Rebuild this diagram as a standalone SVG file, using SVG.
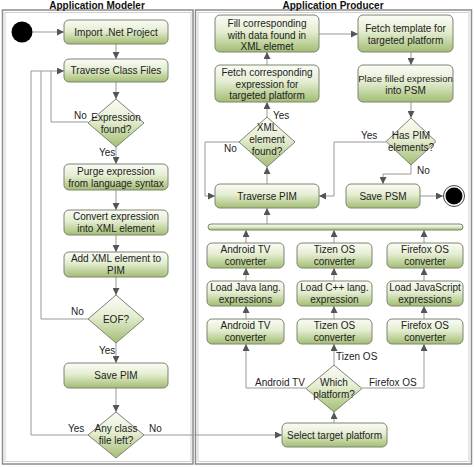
<svg xmlns="http://www.w3.org/2000/svg" width="474" height="467" viewBox="0 0 474 467">
<defs>
<linearGradient id="g" x1="0" y1="0" x2="0" y2="1">
<stop offset="0" stop-color="#fbfcf6"/>
<stop offset="0.45" stop-color="#e4edd1"/>
<stop offset="1" stop-color="#a3bd72"/>
</linearGradient>
<marker id="a" markerWidth="7" markerHeight="7" refX="7" refY="3.5" orient="auto" markerUnits="userSpaceOnUse">
<path d="M0,0 L7,3.5 L0,7 z" fill="#555"/>
</marker>
<style>
.n{fill:url(#g);stroke:#7d8472;stroke-width:1}
.t{font-family:"Liberation Sans",Arial,sans-serif;font-size:10px;fill:#222;text-anchor:middle}
.l{font-family:"Liberation Sans",Arial,sans-serif;font-size:10px;fill:#222}
.h{font-family:"Liberation Sans",Arial,sans-serif;font-size:10px;font-weight:bold;fill:#111;text-anchor:middle}
.c{fill:none;stroke:#999;stroke-width:1}
.ca{fill:none;stroke:#999;stroke-width:1;marker-end:url(#a)}
.f{fill:none;stroke:#8c8c8c;stroke-width:1.5}
.fi{fill:none;stroke:#d0d0d0;stroke-width:1}
</style>
</defs>
<rect width="474" height="467" fill="#fff"/>
<g id="frames">
<rect class="f" x="2.5" y="10" width="190.5" height="454"/>
<rect class="fi" x="5" y="12.5" width="186" height="449"/>
<rect class="f" x="195.5" y="10" width="276" height="454"/>
<rect class="fi" x="198" y="12.5" width="271" height="449"/>
<text class="h" x="97" y="9">Application Modeler</text>
<text class="h" x="333" y="9">Application Producer</text>
</g>
<g id="connectors">
<line class="ca" x1="32.5" y1="32" x2="64" y2="32"/>
<line class="ca" x1="116" y1="44" x2="116" y2="59"/>
<line class="ca" x1="116" y1="82" x2="116" y2="99"/>
<polyline class="ca" points="88,122 51,122 51,71 64,71"/>
<line class="ca" x1="116" y1="147" x2="116" y2="164"/>
<line class="ca" x1="116" y1="190" x2="116" y2="210"/>
<line class="ca" x1="116" y1="235" x2="116" y2="252"/>
<line class="ca" x1="116" y1="277" x2="116" y2="295"/>
<polyline class="c" points="88,319 41,319 41,71"/>
<line class="ca" x1="116" y1="343" x2="116" y2="363"/>
<line class="ca" x1="116" y1="388" x2="116" y2="412"/>
<polyline class="c" points="88,435 31,435 31,71 51,71"/>
<line class="ca" x1="144" y1="435" x2="282" y2="435"/>
<line class="ca" x1="319" y1="34" x2="358" y2="34"/>
<line class="ca" x1="267" y1="65" x2="267" y2="52"/>
<line class="ca" x1="411" y1="52" x2="411" y2="65"/>
<line class="ca" x1="267" y1="117" x2="267" y2="102"/>
<polyline class="ca" points="239,142 205,142 205,196 215,196"/>
<line class="ca" x1="267" y1="184" x2="267" y2="167"/>
<line class="ca" x1="411" y1="102" x2="411" y2="118"/>
<polyline class="ca" points="386,142 334,142 334,196 319,196"/>
<polyline class="ca" points="411,165 411,174 383,174 383,184"/>
<line class="ca" x1="420" y1="196" x2="443" y2="196"/>
<line class="ca" x1="267" y1="224" x2="267" y2="208"/>
<line class="ca" x1="246" y1="243" x2="246" y2="230"/>
<line class="ca" x1="334" y1="243" x2="334" y2="230"/>
<line class="ca" x1="424" y1="243" x2="424" y2="230"/>
<line class="ca" x1="246" y1="281" x2="246" y2="268"/>
<line class="ca" x1="334" y1="281" x2="334" y2="268"/>
<line class="ca" x1="424" y1="281" x2="424" y2="268"/>
<line class="ca" x1="246" y1="319" x2="246" y2="306"/>
<line class="ca" x1="334" y1="319" x2="334" y2="306"/>
<line class="ca" x1="424" y1="319" x2="424" y2="306"/>
<polyline class="ca" points="306,388 246,388 246,344"/>
<line class="ca" x1="334" y1="365" x2="334" y2="344"/>
<polyline class="ca" points="362,388 424,388 424,344"/>
<line class="ca" x1="334" y1="423" x2="334" y2="412"/>
</g>
<g id="labels">
<text class="l" x="74" y="119">No</text>
<text class="l" x="99" y="156">Yes</text>
<text class="l" x="71" y="315">No</text>
<text class="l" x="99" y="354">Yes</text>
<text class="l" x="68" y="432">Yes</text>
<text class="l" x="149" y="432">No</text>
<text class="l" x="273" y="119">Yes</text>
<text class="l" x="224" y="152">No</text>
<text class="l" x="361" y="139">Yes</text>
<text class="l" x="417" y="174">No</text>
<text class="l" x="336" y="360">Tizen OS</text>
<text class="l" x="255" y="386">Android TV</text>
<text class="l" x="369" y="386">Firefox OS</text>
</g>
<g id="start"><circle cx="22" cy="32" r="10.5" fill="#000"/></g>
<g id="import"><rect class="n" x="64" y="20" width="104" height="24" rx="5"/><text class="t" x="116" y="35.5">Import .Net Project</text></g>
<g id="traverse-class"><rect class="n" x="64" y="59" width="104" height="23" rx="5"/><text class="t" x="116" y="74">Traverse Class Files</text></g>
<g id="expr-found"><path class="n" d="M116,99 L144,123 L116,147 L88,123 Z"/><text class="t" x="116" y="121">Expression</text><text class="t" x="116" y="133">found?</text></g>
<g id="purge"><rect class="n" x="64" y="164" width="104" height="26" rx="5"/><text class="t" x="116" y="174.5">Purge expression</text><text class="t" x="116" y="186.5">from language syntax</text></g>
<g id="convert"><rect class="n" x="64" y="210" width="104" height="25" rx="5"/><text class="t" x="116" y="220">Convert expression</text><text class="t" x="116" y="232">into XML element</text></g>
<g id="add-xml"><rect class="n" x="64" y="252" width="104" height="25" rx="5"/><text class="t" x="116" y="262">Add XML element to</text><text class="t" x="116" y="274">PIM</text></g>
<g id="eof"><path class="n" d="M116,295 L144,319 L116,343 L88,319 Z"/><text class="t" x="116" y="322.5">EOF?</text></g>
<g id="save-pim"><rect class="n" x="64" y="363" width="104" height="25" rx="5"/><text class="t" x="116" y="379">Save PIM</text></g>
<g id="any-class"><path class="n" d="M116,412 L144,435 L116,458 L88,435 Z"/><text class="t" x="116" y="432">Any class</text><text class="t" x="116" y="444">file left?</text></g>
<g id="fill"><rect class="n" x="215" y="15" width="104" height="37" rx="5"/><text class="t" x="267" y="26.5">Fill corresponding</text><text class="t" x="267" y="38.5">with data found in</text><text class="t" x="267" y="50">XML elemet</text></g>
<g id="fetch-template"><rect class="n" x="358" y="15" width="95" height="37" rx="5"/><text class="t" x="405.5" y="32">Fetch template for</text><text class="t" x="405.5" y="44">targeted platform</text></g>
<g id="fetch-corr"><rect class="n" x="215" y="65" width="104" height="37" rx="5"/><text class="t" x="267" y="75.5">Fetch corresponding</text><text class="t" x="267" y="87.5">expression for</text><text class="t" x="267" y="99">targeted platform</text></g>
<g id="place"><rect class="n" x="358" y="65" width="95" height="37" rx="5"/><text class="t" x="405.5" y="81.5" style="font-size:9.5px">Place filled expression</text><text class="t" x="405.5" y="93.5">into PSM</text></g>
<g id="xml-found"><path class="n" d="M267,117 L295,142 L267,167 L239,142 Z"/><text class="t" x="267" y="131">XML</text><text class="t" x="267" y="143">element</text><text class="t" x="267" y="155">found?</text></g>
<g id="has-pim"><path class="n" d="M411,118 L436,141.5 L411,165 L386,141.5 Z"/><text class="t" x="411" y="139">Has PIM</text><text class="t" x="411" y="151">elements?</text></g>
<g id="traverse-pim"><rect class="n" x="215" y="184" width="104" height="24" rx="5"/><text class="t" x="267" y="199.5">Traverse PIM</text></g>
<g id="save-psm"><rect class="n" x="346" y="184" width="74" height="24" rx="5"/><text class="t" x="383" y="199.5">Save PSM</text></g>
<g id="end"><circle cx="454" cy="196" r="10.5" fill="#fff" stroke="#444" stroke-width="1"/><circle cx="454" cy="196" r="8.5" fill="#000"/></g>
<g id="join-bar"><rect class="n" x="208" y="224" width="255" height="6" rx="3"/></g>
<g id="android-conv-top"><rect class="n" x="207" y="243" width="77" height="25" rx="5"/><text class="t" x="245.5" y="253">Android TV</text><text class="t" x="245.5" y="265">converter</text></g>
<g id="tizen-conv-top"><rect class="n" x="297" y="243" width="75" height="25" rx="5"/><text class="t" x="334.5" y="253">Tizen OS</text><text class="t" x="334.5" y="265">converter</text></g>
<g id="firefox-conv-top"><rect class="n" x="387" y="243" width="76" height="25" rx="5"/><text class="t" x="425" y="253">Firefox OS</text><text class="t" x="425" y="265">converter</text></g>
<g id="load-java"><rect class="n" x="207" y="281" width="77" height="25" rx="5"/><text class="t" x="245.5" y="291">Load Java lang.</text><text class="t" x="245.5" y="303">expressions</text></g>
<g id="load-cpp"><rect class="n" x="297" y="281" width="75" height="25" rx="5"/><text class="t" x="334.5" y="291">Load C++ lang.</text><text class="t" x="334.5" y="303">expression</text></g>
<g id="load-js"><rect class="n" x="387" y="281" width="76" height="25" rx="5"/><text class="t" x="425" y="291">Load JavaScript</text><text class="t" x="425" y="303">expressions</text></g>
<g id="android-conv"><rect class="n" x="207" y="319" width="77" height="25" rx="5"/><text class="t" x="245.5" y="329">Android TV</text><text class="t" x="245.5" y="341">converter</text></g>
<g id="tizen-conv"><rect class="n" x="297" y="319" width="75" height="25" rx="5"/><text class="t" x="334.5" y="329">Tizen OS</text><text class="t" x="334.5" y="341">converter</text></g>
<g id="firefox-conv"><rect class="n" x="387" y="319" width="76" height="25" rx="5"/><text class="t" x="425" y="329">Firefox OS</text><text class="t" x="425" y="341">converter</text></g>
<g id="which"><path class="n" d="M334,365 L362,388.5 L334,412 L306,388.5 Z"/><text class="t" x="334" y="386">Which</text><text class="t" x="334" y="398">platform?</text></g>
<g id="select"><rect class="n" x="282" y="423" width="105" height="24" rx="5"/><text class="t" x="334.5" y="438.5">Select target platform</text></g>
</svg>
